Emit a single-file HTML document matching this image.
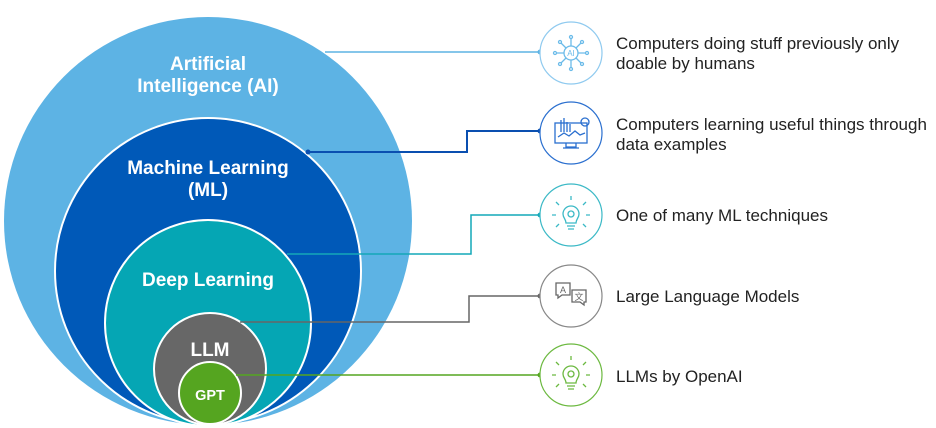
<!DOCTYPE html>
<html><head><meta charset="utf-8"><style>
html,body{margin:0;padding:0;background:#fff;width:936px;height:428px;overflow:hidden}
svg{display:block}
.t{font-family:"Liberation Sans",sans-serif;font-weight:bold;fill:#fff;text-anchor:middle}
.d{font-family:"Liberation Sans",sans-serif;font-size:17px;fill:#222}
</style></head><body>
<svg width="936" height="428" viewBox="0 0 936 428" xmlns="http://www.w3.org/2000/svg">
<circle cx="208" cy="221" r="204" fill="#5db3e4"/>
<circle cx="208" cy="271" r="153" fill="#0059b8" stroke="#fff" stroke-width="2"/>
<circle cx="208" cy="323" r="103" fill="#05a6b4" stroke="#fff" stroke-width="2"/>
<circle cx="210" cy="369" r="56" fill="#676767" stroke="#fff" stroke-width="2"/>
<circle cx="210" cy="393" r="31" fill="#55a520" stroke="#fff" stroke-width="2"/>
<text class="t" x="208" y="70" font-size="19">Artificial</text>
<text class="t" x="208" y="92" font-size="19">Intelligence (AI)</text>
<text class="t" x="208" y="174" font-size="19">Machine Learning</text>
<text class="t" x="208" y="196" font-size="19">(ML)</text>
<text class="t" x="208" y="286" font-size="19">Deep Learning</text>
<text class="t" x="210" y="356" font-size="19">LLM</text>
<text class="t" x="210" y="400" font-size="14.5">GPT</text>
<g fill="none" stroke-width="1.5">
<polyline points="325,52 540,52" stroke="#5db3e4"/>
<polyline points="308,152 467,152 467,131 540,131" stroke="#0a4fb0" stroke-width="2"/>
<polyline points="287,254 471,254 471,215 540,215" stroke="#14a8b8"/>
<polyline points="240,322 469,322 469,296 540,296" stroke="#666"/>
<polyline points="236,375 540,375" stroke="#55a520"/>
</g>
<circle cx="308" cy="152" r="2.5" fill="#0a4fb0"/>
<circle cx="540" cy="52" r="2.5" fill="#5db3e4"/>
<circle cx="540" cy="131" r="2.5" fill="#0a4fb0"/>
<circle cx="540" cy="215" r="2.5" fill="#14a8b8"/>
<circle cx="540" cy="296" r="2.5" fill="#666"/>
<circle cx="540" cy="375" r="2.5" fill="#55a520"/>
<g fill="#fff" stroke-width="1.2">
<circle cx="571" cy="53" r="31" stroke="#8fcaef"/>
<circle cx="571" cy="133" r="31" stroke="#2a6fcf"/>
<circle cx="571" cy="215" r="31" stroke="#3bb9c6"/>
<circle cx="571" cy="296" r="31" stroke="#888"/>
<circle cx="571" cy="375" r="31" stroke="#6cb940"/>
</g>
<g fill="none" stroke="#6bbbe9" stroke-width="1.3">
<circle cx="571" cy="53" r="7"/>
<text x="571" y="56" font-size="8" fill="#6bbbe9" stroke="none" text-anchor="middle" font-family="Liberation Sans">AI</text>
<path d="M571 46v-8M571 60v8M564 53h-8M578 53h8M566 48l-5-5M576 48l5-5M566 58l-5 5M576 58l5 5"/>
<circle cx="571" cy="37" r="1.5"/><circle cx="571" cy="69" r="1.5"/><circle cx="555" cy="53" r="1.5"/><circle cx="587" cy="53" r="1.5"/>
<circle cx="560" cy="42" r="1.5"/><circle cx="582" cy="42" r="1.5"/><circle cx="560" cy="64" r="1.5"/><circle cx="582" cy="64" r="1.5"/>
</g>
<g fill="none" stroke="#2a6fcf" stroke-width="1.3">
<rect x="555" y="123" width="32" height="20"/>
<path d="M566 143v4h10v-4M563 148h16"/>
<path d="M558 137l6-4 5 3 6-5 5 4 5-2"/>
<path d="M561 132v-12M564 132v-14M567 132v-10M570 132v-8"/>
<circle cx="585" cy="122" r="4"/>
</g>
<g fill="none" stroke="#3bb9c6" stroke-width="1.3">
<path d="M563 214a8 8 0 1 1 16 0c0 4-3 5-3 9h-10c0-4-3-5-3-9z"/>
<path d="M567 226h8M568 229h6"/>
<circle cx="571" cy="214" r="3"/>
<path d="M571 200v-4M559 205l-3-3M583 205l3-3M556 215h-4M586 215h4M559 224l-3 3M583 224l3 3"/>
</g>
<g fill="none" stroke="#666" stroke-width="1.3">
<path d="M556 283h14v12h-8l-4 3v-3h-2z"/>
<path d="M572 290h14v12h-2v3l-4-3h-8z"/>
<text x="563" y="293" font-size="9" fill="#666" stroke="none" text-anchor="middle" font-family="Liberation Sans">A</text>
<text x="579" y="300" font-size="9" fill="#666" stroke="none" text-anchor="middle" font-family="Noto Sans CJK SC">文</text>
</g>
<g fill="none" stroke="#6cb940" stroke-width="1.3">
<path d="M563 374a8 8 0 1 1 16 0c0 4-3 5-3 9h-10c0-4-3-5-3-9z"/>
<path d="M567 386h8M568 389h6"/>
<circle cx="571" cy="374" r="3"/>
<path d="M571 360v-4M559 365l-3-3M583 365l3-3M556 375h-4M586 375h4M559 384l-3 3M583 384l3 3"/>
</g>
<text class="d" x="616" y="49">Computers doing stuff previously only</text>
<text class="d" x="616" y="69">doable by humans</text>
<text class="d" x="616" y="130">Computers learning useful things through</text>
<text class="d" x="616" y="150">data examples</text>
<text class="d" x="616" y="221">One of many ML techniques</text>
<text class="d" x="616" y="302">Large Language Models</text>
<text class="d" x="616" y="382">LLMs by OpenAI</text>
</svg>
</body></html>
